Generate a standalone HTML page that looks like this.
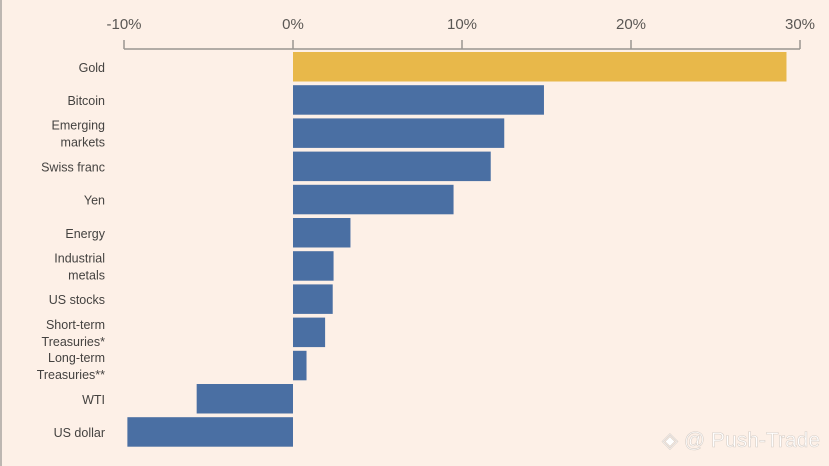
<!DOCTYPE html>
<html><head><meta charset="utf-8"><style>
html,body{margin:0;padding:0;width:829px;height:466px;overflow:hidden;background:#fdf0e7;}
svg{display:block;font-family:"Liberation Sans",sans-serif;}
</style></head><body>
<svg id="chart" width="829" height="466" viewBox="0 0 829 466">
<rect x="0" y="0" width="829" height="466" fill="#fdf0e7"/>
<line x1="1" y1="0" x2="1" y2="466" stroke="#a8a4a0" stroke-width="1.5"/>
<g id="axis"></g>
<g id="bars"></g>
<g id="labels"></g>
<text x="820" y="447" text-anchor="end" font-size="21" fill="#ffffff" stroke="#d8cfc8" stroke-width="0.6">◈ @ Push-Trade</text>
</svg>
<script>
const categories=["Gold","Bitcoin","Emerging|markets","Swiss franc","Yen","Energy","Industrial|metals","US stocks","Short-term|Treasuries*","Long-term|Treasuries**","WTI","US dollar"];
const values=[29.2,14.85,12.5,11.7,9.5,3.4,2.4,2.35,1.9,0.8,-5.7,-9.8];
const ticks=[-10,0,10,20,30];
const tickLabels=["-10%","0%","10%","20%","30%"];
const NS="http://www.w3.org/2000/svg";
const x=v=>293+v*16.9;
const rowTop=i=>52+i*33.2;
const barH=29.5;
function mk(tag,attrs,parent){const e=document.createElementNS(NS,tag);for(const k in attrs)e.setAttribute(k,attrs[k]);parent.appendChild(e);return e;}
const ax=document.getElementById('axis'),bg=document.getElementById('bars'),lg=document.getElementById('labels');
const base=mk('line',{x1:x(-10),x2:x(30),y1:49,y2:49,stroke:'#9a9590','stroke-width':1.5},ax);


ticks.forEach((t,i)=>{
 const l=mk('line',{x1:x(t),x2:x(t),y1:40,y2:49,stroke:'#9a9590','stroke-width':1.5},ax);
 
 
 const tx=mk('text',{x:x(t),y:29,'text-anchor':'middle','font-size':15,fill:'#5a5754'},ax);
 tx.textContent=tickLabels[i];
 
 
});
values.forEach((v,i)=>{
 const x0=Math.min(x(0),x(v)),w=Math.abs(x(v)-x(0));
 const r=mk('rect',{x:x0,y:rowTop(i),width:w,height:barH,fill:i===0?'#e8b84a':'#4a6fa3'},bg);
 
 
 const lines=categories[i].split('|');
 const cy=rowTop(i)+barH/2;
 const t=mk('text',{x:105,'text-anchor':'end','font-size':12.5,fill:'#444240'},lg);
 
 
 lines.forEach((s,j)=>{const ts=mk('tspan',{x:105,y:cy+5+(j-(lines.length-1)/2)*17},t);ts.textContent=s;});
});
</script>
</body></html>
